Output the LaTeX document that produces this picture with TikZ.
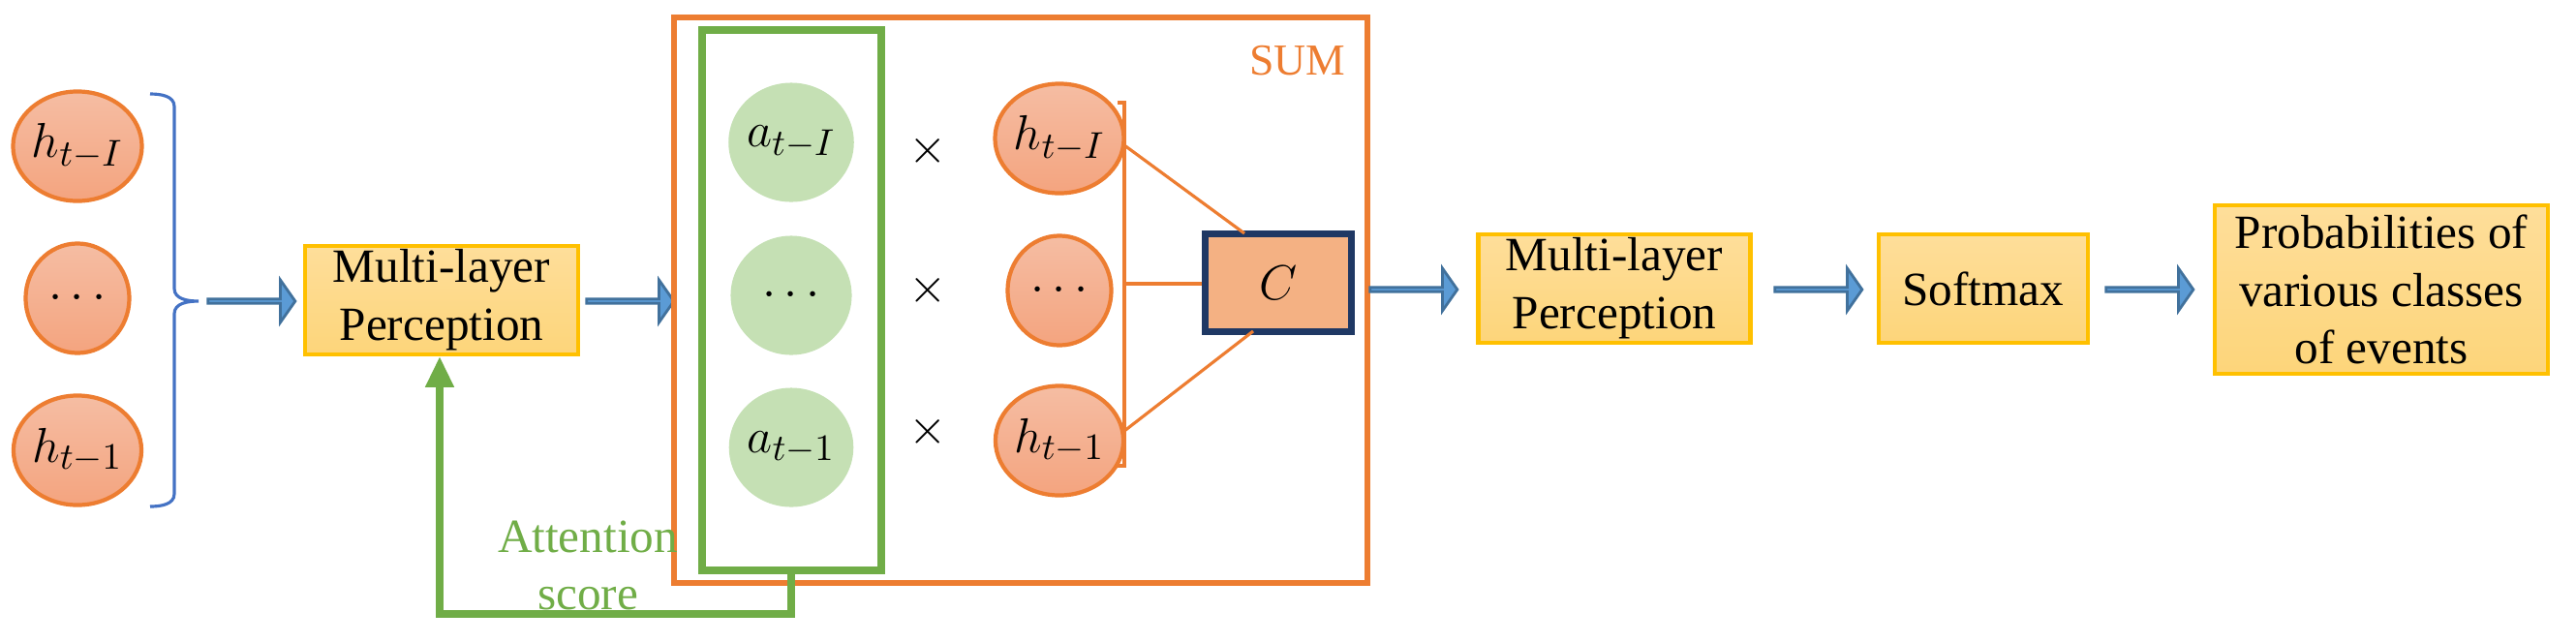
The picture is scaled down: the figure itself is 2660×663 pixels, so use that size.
\documentclass[tikz,border=0pt]{standalone}
\usepackage{fontspec}
\setmainfont{Liberation Serif}
\usetikzlibrary{shapes.geometric,shapes.arrows,arrows.meta}
\definecolor{orb}{HTML}{ED7D31}
\definecolor{ortop}{HTML}{F5BDA3}
\definecolor{orbot}{HTML}{F4A47F}
\definecolor{grn}{HTML}{C5E0B4}
\definecolor{grline}{HTML}{70AD47}
\definecolor{ylb}{HTML}{FFC000}
\definecolor{yltop}{HTML}{FEDE9A}
\definecolor{ylbot}{HTML}{FDD57A}
\definecolor{blu}{HTML}{5B9BD5}
\definecolor{blb}{HTML}{41719C}
\definecolor{cfill}{HTML}{F4B183}
\definecolor{cbord}{HTML}{1F3864}
\definecolor{brace}{HTML}{4472C4}
\tikzset{
 hc/.style={ellipse,draw=orb,line width=1.2pt,top color=ortop,bottom color=orbot,minimum width=1.07cm,minimum height=1.13cm,inner sep=0pt,font=\fontsize{15}{15}\selectfont},
 ac/.style={ellipse,fill=grn,minimum width=1.25cm,minimum height=1.23cm,inner sep=0pt,font=\fontsize{15}{15}\selectfont},
 yb/.style={draw=ylb,line width=1.2pt,top color=yltop,bottom color=ylbot,inner sep=0pt,align=center,font=\fontsize{14}{17}\selectfont},
 barr/.style={single arrow,fill=blu,draw=blb,line width=0.8pt,minimum width=0.44cm,single arrow head extend=0.12cm,single arrow tip angle=110,minimum height=0.9cm,inner sep=0pt},
 tm/.style={font=\fontsize{15}{15}\selectfont}
}
\begin{document}
\begin{tikzpicture}[x=0.01cm,y=-0.01cm]
\useasboundingbox (0,0) rectangle (2660,663);
% left column
\node[hc] (h1) at (80,151) {$h_{t-I}$};
\node[hc] (h2) at (80,308) {$\cdots$};
\node[hc] (h3) at (80,465) {$h_{t-1}$};
\draw[brace,line width=0.9pt] (155,97) to[out=0,in=90] (180,110) -- (180,298) to[out=-90,in=180] (205,311) to[out=180,in=90] (180,324) -- (180,510) to[out=-90,in=0] (155,523);
\coordinate (bt) at (205,311);
\node[barr] (ar1) at (259,311) {};
\node[yb,minimum width=2.82cm,minimum height=1.12cm] (mlp1) at (456,310) {Multi-layer\\Perception};
\node[barr] (ar2) at (650,311) {};
% sum box
\draw[orb,line width=1.5pt] (696,18) rectangle (1412,602);
\node[text=orb,font=\fontsize{13}{13}\selectfont,anchor=east] (sum) at (1402,63) {SUM};
\draw[grline,line width=2pt] (725,31) rectangle (910,589);
\coordinate (gb) at (817,589);
\node[ac] (a1) at (817,147) {$a_{t-I}$};
\node[ac] (a2) at (817,305) {$\cdots$};
\node[ac] (a3) at (817,462) {$a_{t-1}$};
\node[tm] (x1) at (958,156) {$\times$};
\node[tm] (x2) at (958,300) {$\times$};
\node[tm] (x3) at (958,446) {$\times$};
\node[hc] (r1) at (1094,143) {$h_{t-I}$};
\node[hc] (r2) at (1094,300) {$\cdots$};
\node[hc] (r3) at (1094,455) {$h_{t-1}$};
\draw[orb,line width=0.9pt] (1154,106) -- (1161,106) -- (1161,481) -- (1154,481);
\node[draw=cbord,line width=1.8pt,fill=cfill,minimum width=1.51cm,minimum height=1.01cm,inner sep=0pt,font=\fontsize{15}{15}\selectfont] (C) at (1320,292) {$C$};
\coordinate (b1) at (1161,150);
\coordinate (b2) at (1161,293);
\coordinate (b3) at (1161,445);
\draw[orb,line width=0.9pt] (b1) -- (1285,241);
\draw[orb,line width=0.9pt] (b2) -- (C.west |- b2);
\draw[orb,line width=0.9pt] (b3) -- (1294,342);
% feedback
\draw[grline,line width=2pt,-{Triangle[width=8pt,length=9pt]}] (gb) -- (817,634) -- (454,634) -- (mlp1.south -| 454,0);
\node[text=grline,font=\fontsize{14}{17}\selectfont,align=center] (att) at (607,584) {Attention\\score};
% right chain
\node[barr] (ar3) at (1459,299) {};
\node[yb,minimum width=2.81cm,minimum height=1.12cm] (mlp2) at (1667,298) {Multi-layer\\Perception};
\node[barr] (ar4) at (1877,299) {};
\node[yb,minimum width=2.16cm,minimum height=1.12cm] (soft) at (2048,298) {Softmax};
\node[barr] (ar5) at (2219,299) {};
\node[yb,minimum width=3.44cm,minimum height=1.74cm] (prob) at (2459,299) {Probabilities of\\various classes\\of events};
\end{tikzpicture}
\end{document}
